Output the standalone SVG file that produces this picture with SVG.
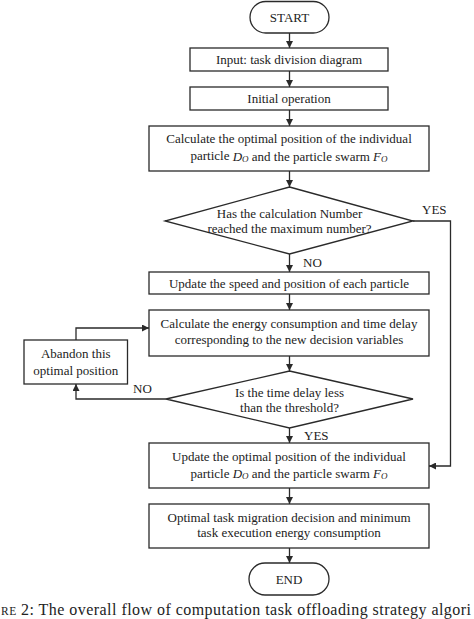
<svg xmlns="http://www.w3.org/2000/svg" width="474" height="619" viewBox="0 0 474 619">
<defs>
<style>
.box{fill:#fff;stroke:#2a2a2a;stroke-width:1.3}
.t{font-family:"Liberation Serif","Times New Roman",serif;font-size:13px;fill:#222;text-anchor:middle;dominant-baseline:central}
.lbl{font-family:"Liberation Serif","Times New Roman",serif;font-size:13px;fill:#222;dominant-baseline:central}
.c{fill:none;stroke:#2a2a2a;stroke-width:1.3}
.cap{font-family:"Liberation Serif","Times New Roman",serif;font-size:16px;fill:#222}
</style>
<marker id="ah" viewBox="0 0 10 10" refX="10" refY="5" markerWidth="7" markerHeight="7" markerUnits="userSpaceOnUse" orient="auto">
<path d="M0,0 L10,5 L0,10 z" fill="#2a2a2a"/>
</marker>
</defs>
<rect width="474" height="619" fill="#fff"/>

<g id="connectors">
<line class="c" x1="289.5" y1="33" x2="289.5" y2="48" marker-end="url(#ah)"/>
<line class="c" x1="289.5" y1="71" x2="289.5" y2="87" marker-end="url(#ah)"/>
<line class="c" x1="289.5" y1="110" x2="289.5" y2="126" marker-end="url(#ah)"/>
<line class="c" x1="289.5" y1="171" x2="289.5" y2="187" marker-end="url(#ah)"/>
<line class="c" x1="289.5" y1="254" x2="289.5" y2="272" marker-end="url(#ah)"/>
<line class="c" x1="289.5" y1="294" x2="289.5" y2="310" marker-end="url(#ah)"/>
<line class="c" x1="289.5" y1="356" x2="289.5" y2="371" marker-end="url(#ah)"/>
<line class="c" x1="289.5" y1="428" x2="289.5" y2="443" marker-end="url(#ah)"/>
<line class="c" x1="289.5" y1="488" x2="289.5" y2="504" marker-end="url(#ah)"/>
<line class="c" x1="289.5" y1="548" x2="289.5" y2="563" marker-end="url(#ah)"/>
<polyline class="c" points="413,221 450.5,221 450.5,466 429,466" marker-end="url(#ah)"/>
<polyline class="c" points="166,399 76,399 76,384" marker-end="url(#ah)"/>
<polyline class="c" points="76,340 76,328 149,328" marker-end="url(#ah)"/>
<text class="lbl" x="422" y="209">YES</text>
<text class="lbl" x="303" y="262">NO</text>
<text class="lbl" x="133" y="388">NO</text>
<text class="lbl" x="304" y="435">YES</text>
</g>

<g id="start">
<rect class="box" x="250" y="1.5" width="79" height="31.5" rx="15.75"/>
<text class="t" x="289.5" y="17">START</text>
</g>

<g id="input">
<rect class="box" x="190" y="48" width="198" height="23"/>
<text class="t" x="289" y="59.5">Input: task division diagram</text>
</g>

<g id="init">
<rect class="box" x="190" y="87" width="198" height="23"/>
<text class="t" x="289" y="98.5">Initial operation</text>
</g>

<g id="calc-optimal">
<rect class="box" x="149" y="126" width="280" height="45"/>
<text class="t" x="289" y="138.5">Calculate the optimal position of the individual</text>
<text class="t" x="289" y="155.5">particle <tspan font-style="italic">D</tspan><tspan font-style="italic" font-size="9" dy="3">O</tspan><tspan dy="-3"> and the particle swarm </tspan><tspan font-style="italic">F</tspan><tspan font-style="italic" font-size="9" dy="3">O</tspan></text>
</g>

<g id="decision-max">
<polygon class="box" points="289.5,187 413,221 289.5,254 165,221"/>
<text class="t" x="289.5" y="213">Has the calculation Number</text>
<text class="t" x="289.5" y="228.5">reached the maximum number?</text>
</g>

<g id="update-speed">
<rect class="box" x="149" y="272" width="280" height="22"/>
<text class="t" x="289" y="283">Update the speed and position of each particle</text>
</g>

<g id="calc-energy">
<rect class="box" x="149" y="310" width="280" height="46"/>
<text class="t" x="289" y="323">Calculate the energy consumption and time delay</text>
<text class="t" x="289" y="339.5">corresponding to the new decision variables</text>
</g>

<g id="abandon">
<rect class="box" x="24" y="340" width="103.5" height="44"/>
<text class="t" x="75.75" y="353.5">Abandon this</text>
<text class="t" x="75.75" y="370">optimal position</text>
</g>

<g id="decision-delay">
<polygon class="box" points="289.5,371 413,399 289.5,428 166,399"/>
<text class="t" x="289.5" y="392">Is the time delay less</text>
<text class="t" x="289.5" y="407">than the threshold?</text>
</g>

<g id="update-optimal">
<rect class="box" x="149" y="443" width="280" height="45"/>
<text class="t" x="289" y="456">Update the optimal position of the individual</text>
<text class="t" x="289" y="473">particle <tspan font-style="italic">D</tspan><tspan font-style="italic" font-size="9" dy="3">O</tspan><tspan dy="-3"> and the particle swarm </tspan><tspan font-style="italic">F</tspan><tspan font-style="italic" font-size="9" dy="3">O</tspan></text>
</g>

<g id="optimal-task">
<rect class="box" x="149" y="504" width="280" height="44"/>
<text class="t" x="289" y="517.5">Optimal task migration decision and minimum</text>
<text class="t" x="289" y="532.5">task execution energy consumption</text>
</g>

<g id="end">
<rect class="box" x="249" y="563" width="80" height="32" rx="16"/>
<text class="t" x="289" y="579">END</text>
</g>

<g id="caption">
<text class="cap" x="1" y="615" textLength="470" lengthAdjust="spacing"><tspan font-size="11.5">RE</tspan> 2: The overall flow of computation task offloading strategy algori</text>
</g>
</svg>
